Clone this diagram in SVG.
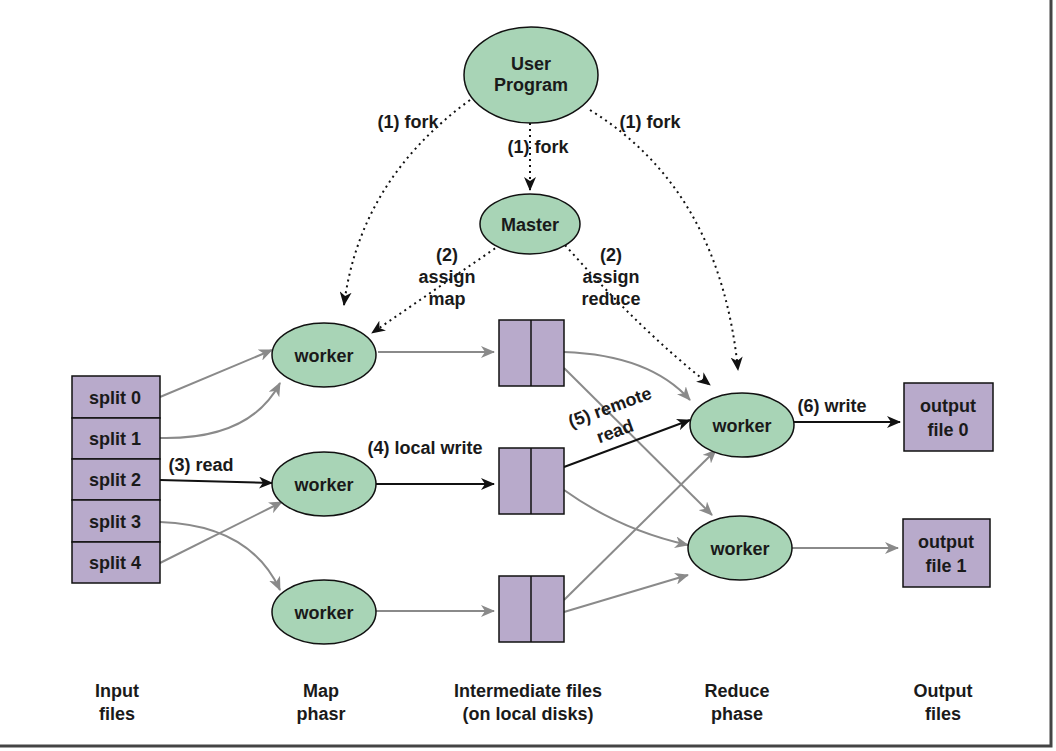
<svg xmlns="http://www.w3.org/2000/svg" width="1056" height="751" viewBox="0 0 1056 751">
<defs>
<marker id="ab" markerWidth="14" markerHeight="12" refX="13" refY="6" orient="auto" markerUnits="userSpaceOnUse" viewBox="0 0 14 12"><path d="M0,0 L14,6 L0,12 L4,6 z" fill="#111"/></marker>
<marker id="ag" markerWidth="14" markerHeight="12" refX="13" refY="6" orient="auto" markerUnits="userSpaceOnUse" viewBox="0 0 14 12"><path d="M0,0 L14,6 L0,12 L4,6 z" fill="#8a8a8a"/></marker>
<style>
text{font-family:"Liberation Sans",Arial,sans-serif;font-weight:bold;font-size:18px;fill:#1a1a1a;text-anchor:middle}
.n{fill:#a8d4b6;stroke:#111;stroke-width:1.5}
.b{fill:#b8aacb;stroke:#111;stroke-width:1.5}
.g{fill:none;stroke:#8a8a8a;stroke-width:2;marker-end:url(#ag)}
.k{fill:none;stroke:#111;stroke-width:2;marker-end:url(#ab)}
.d{fill:none;stroke:#111;stroke-width:2;stroke-dasharray:2 4;marker-end:url(#ab)}
</style>
</defs>
<rect width="1056" height="751" fill="#fff"/>
<path d="M1051,0 V746 H0" fill="none" stroke="#444" stroke-width="3"/>
<g id="connectors">
<path class="d" d="M470,100 Q360,180 344,305"/>
<path class="d" d="M590,110 Q720,190 738,370"/>
<path class="d" d="M530,123 V190"/>
<path class="d" d="M500,245 L372,333"/>
<path class="d" d="M565,245 Q640,330 710,385"/>
<path class="g" d="M160,397 L272,350"/>
<path class="g" d="M160,438 Q250,440 280,383"/>
<path class="g" d="M160,522 Q250,525 280,590"/>
<path class="g" d="M160,563 L282,502"/>
<path class="k" d="M160,480 L272,483"/>
<path class="g" d="M378,352 H494"/>
<path class="k" d="M376,484 H494"/>
<path class="g" d="M376,611 H494"/>
<path class="g" d="M564,352 Q650,355 690,400"/>
<path class="g" d="M564,368 L712,515"/>
<path class="k" d="M564,467 L690,420"/>
<path class="g" d="M564,490 Q620,530 688,545"/>
<path class="g" d="M564,600 L716,450"/>
<path class="g" d="M564,612 L688,575"/>
<path class="k" d="M792,422 H900"/>
<path class="g" d="M792,548 H898"/>
</g>
<g id="user"><ellipse class="n" cx="531" cy="75" rx="67" ry="48"/><text x="531" y="70">User</text><text x="531" y="91">Program</text></g>
<g id="master"><ellipse class="n" cx="530" cy="224" rx="50" ry="30"/><text x="530" y="231">Master</text></g>
<g id="w1"><ellipse class="n" cx="324" cy="355" rx="52" ry="32"/><text x="324" y="362">worker</text></g>
<g id="w2"><ellipse class="n" cx="324" cy="484" rx="52" ry="32"/><text x="324" y="491">worker</text></g>
<g id="w3"><ellipse class="n" cx="324" cy="612" rx="52" ry="32"/><text x="324" y="619">worker</text></g>
<g id="r1"><ellipse class="n" cx="742" cy="425" rx="52" ry="32"/><text x="742" y="432">worker</text></g>
<g id="r2"><ellipse class="n" cx="740" cy="548" rx="52" ry="32"/><text x="740" y="555">worker</text></g>
<g id="splits">
<rect class="b" x="72" y="376" width="88" height="42"/><text x="115" y="404">split 0</text>
<rect class="b" x="72" y="418" width="88" height="41"/><text x="115" y="445">split 1</text>
<rect class="b" x="72" y="459" width="88" height="41"/><text x="115" y="486">split 2</text>
<rect class="b" x="72" y="500" width="88" height="42"/><text x="115" y="528">split 3</text>
<rect class="b" x="72" y="542" width="88" height="41"/><text x="115" y="569">split 4</text>
</g>
<g id="i1"><rect class="b" x="499" y="320" width="65" height="66"/><path d="M531,320 V386" stroke="#111" stroke-width="1.5"/></g>
<g id="i2"><rect class="b" x="499" y="448" width="65" height="66"/><path d="M531,448 V514" stroke="#111" stroke-width="1.5"/></g>
<g id="i3"><rect class="b" x="499" y="576" width="65" height="66"/><path d="M531,576 V642" stroke="#111" stroke-width="1.5"/></g>
<g id="o0"><rect class="b" x="904" y="383" width="89" height="68"/><text x="948" y="412">output</text><text x="948" y="436">file 0</text></g>
<g id="o1"><rect class="b" x="903" y="519" width="87" height="68"/><text x="946" y="548">output</text><text x="946" y="572">file 1</text></g>
<g id="labels">
<text x="408" y="128">(1) fork</text>
<text x="538" y="153">(1) fork</text>
<text x="650" y="128">(1) fork</text>
<text x="447" y="261">(2)</text><text x="447" y="283">assign</text><text x="447" y="305">map</text>
<text x="611" y="261">(2)</text><text x="611" y="283">assign</text><text x="611" y="305">reduce</text>
<text x="201" y="471">(3) read</text>
<text x="425" y="454">(4) local write</text>
<text x="612" y="413" transform="rotate(-20 612 413)">(5) remote</text>
<text x="617" y="437" transform="rotate(-20 617 437)">read</text>
<text x="832" y="412">(6) write</text>
<text x="117" y="697">Input</text><text x="117" y="720">files</text>
<text x="321" y="697">Map</text><text x="321" y="720">phasr</text>
<text x="528" y="697">Intermediate files</text><text x="528" y="720">(on local disks)</text>
<text x="737" y="697">Reduce</text><text x="737" y="720">phase</text>
<text x="943" y="697">Output</text><text x="943" y="720">files</text>
</g>
</svg>
